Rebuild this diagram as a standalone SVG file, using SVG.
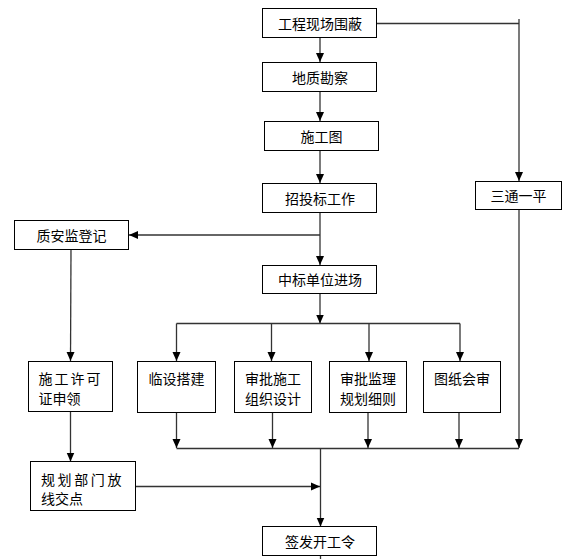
<svg xmlns="http://www.w3.org/2000/svg" width="565" height="559" viewBox="0 0 565 559">
<style>
.box{fill:#fff;stroke:#000;stroke-width:1}
.t{font-family:"Liberation Sans","Noto Sans CJK SC",sans-serif;font-size:14px;fill:#000}
.c{text-anchor:middle}
.ln{fill:none;stroke:#333;stroke-width:1.3}
</style>
<defs>
<marker id="ah" markerUnits="userSpaceOnUse" markerWidth="10" markerHeight="10" viewBox="0 0 10 10" refX="9" refY="5" orient="auto">
<path d="M0,1 L9,5 L0,9 Z" fill="#000"/>
</marker>
</defs>
<rect width="565" height="559" fill="#fff"/>
<g id="connectors">
<line class="ln" x1="320" y1="37.5" x2="320" y2="62" marker-end="url(#ah)"/>
<line class="ln" x1="320" y1="91.5" x2="320" y2="121" marker-end="url(#ah)"/>
<line class="ln" x1="320" y1="150.5" x2="320" y2="183" marker-end="url(#ah)"/>
<line class="ln" x1="320" y1="212.5" x2="320" y2="265" marker-end="url(#ah)"/>
<line class="ln" x1="320" y1="235" x2="129" y2="235" marker-end="url(#ah)"/>
<polyline class="ln" points="377,23.5 519,23.5"/>
<line class="ln" x1="519" y1="19" x2="519" y2="181" marker-end="url(#ah)"/>
<line class="ln" x1="519" y1="209.5" x2="519" y2="448" marker-end="url(#ah)"/>
<line class="ln" x1="71" y1="249.5" x2="70.5" y2="361" marker-end="url(#ah)"/>
<line class="ln" x1="320" y1="293.5" x2="320" y2="323.5" marker-end="url(#ah)"/>
<polyline class="ln" points="176.5,323.5 460,323.5"/>
<line class="ln" x1="176.5" y1="323.5" x2="176.5" y2="361" marker-end="url(#ah)"/>
<line class="ln" x1="271.5" y1="323.5" x2="271.5" y2="361" marker-end="url(#ah)"/>
<line class="ln" x1="369" y1="323.5" x2="369" y2="361" marker-end="url(#ah)"/>
<line class="ln" x1="460" y1="323.5" x2="460" y2="361" marker-end="url(#ah)"/>
<line class="ln" x1="176.5" y1="412.5" x2="176.5" y2="448" marker-end="url(#ah)"/>
<line class="ln" x1="272.5" y1="412.5" x2="272.5" y2="448" marker-end="url(#ah)"/>
<line class="ln" x1="368" y1="412.5" x2="368" y2="448" marker-end="url(#ah)"/>
<line class="ln" x1="459" y1="412.5" x2="459" y2="448" marker-end="url(#ah)"/>
<polyline class="ln" points="176.5,448.5 519,448.5"/>
<line class="ln" x1="320.5" y1="448.5" x2="320.5" y2="526.5" marker-end="url(#ah)"/>
<line class="ln" x1="70.5" y1="411.5" x2="70.5" y2="461.5" marker-end="url(#ah)"/>
<line class="ln" x1="136" y1="486.5" x2="320" y2="486.5" marker-end="url(#ah)"/>
<line class="ln" x1="320.5" y1="555.5" x2="320.5" y2="559"/>
</g>
<g id="n1"><rect class="box" x="262.5" y="8.5" width="114" height="29"/><text class="t c" x="320" y="28.5">工程现场围蔽</text></g>
<g id="n2"><rect class="box" x="262.5" y="62.5" width="114" height="29"/><text class="t c" x="320" y="82.5">地质勘察</text></g>
<g id="n3"><rect class="box" x="264.5" y="121.5" width="114" height="29"/><text class="t c" x="321.5" y="141.5">施工图</text></g>
<g id="n4"><rect class="box" x="262.5" y="183.5" width="114" height="29"/><text class="t c" x="320" y="203.5">招投标工作</text></g>
<g id="n5"><rect class="box" x="14.5" y="220.5" width="114" height="29"/><text class="t c" x="71.5" y="240.5">质安监登记</text></g>
<g id="n6"><rect class="box" x="475.5" y="181.5" width="86" height="28"/><text class="t c" x="518.5" y="201">三通一平</text></g>
<g id="n7"><rect class="box" x="262.5" y="265.5" width="114" height="28"/><text class="t c" x="320" y="285">中标单位进场</text></g>
<g id="n8"><rect class="box" x="28.5" y="361.5" width="84" height="50"/><text class="t" x="38.5" y="384" letter-spacing="2">施工许可</text><text class="t" x="38.5" y="404">证申领</text></g>
<g id="n9"><rect class="box" x="137.5" y="361.5" width="78" height="51"/><text class="t c" x="176.5" y="384">临设搭建</text></g>
<g id="n10"><rect class="box" x="234.5" y="361.5" width="77" height="51"/><text class="t c" x="273" y="384">审批施工</text><text class="t c" x="273" y="404">组织设计</text></g>
<g id="n11"><rect class="box" x="329.5" y="361.5" width="77" height="51"/><text class="t c" x="368" y="384">审批监理</text><text class="t c" x="368" y="404">规划细则</text></g>
<g id="n12"><rect class="box" x="423.5" y="361.5" width="77" height="51"/><text class="t c" x="462" y="384">图纸会审</text></g>
<g id="n13"><rect class="box" x="30.5" y="461.5" width="105" height="49"/><text class="t" x="41" y="485" letter-spacing="2.6">规划部门放</text><text class="t" x="41" y="504">线交点</text></g>
<g id="n14"><rect class="box" x="262.5" y="526.5" width="114" height="29"/><text class="t c" x="320" y="546.5">签发开工令</text></g>
</svg>
